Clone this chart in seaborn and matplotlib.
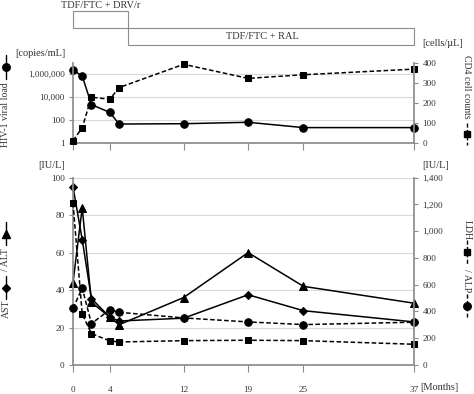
import matplotlib
matplotlib.use("Agg")
import matplotlib.pyplot as plt
from matplotlib.lines import Line2D
from matplotlib.ticker import NullLocator, FixedLocator
import seaborn as sns

sns.set_theme(style="ticks")
plt.rcParams['font.family'] = ['Liberation Serif', 'DejaVu Sans']

# data
months = [0, 1, 2, 4, 5, 12, 19, 25, 37]
viral_load = [2.2e6, 7.0e5, 2240, 460, 45, 48, 64, 22, 22]
cd4 = [12, 76, 228, 218, 276, 392, 322, 340, 368]
ast = [95, 67, 35.5, 25.5, 23.5, 25, 37.5, 29, 23]
alt = [44, 84, 33.5, 25.5, 21.5, 36, 60, 42, 33]
ldh = [1210, 380, 235, 180, 172, 182, 185, 182, 155]
alp = [424, 575, 310, 413, 394, 352, 322, 302, 320]

month_ticks = [0, 4, 12, 19, 25, 37]
vl_ticks = [1, 100, 10000, 1000000]
vl_labels = ["1", "100", "10,000", "1,000,000"]

regimens = ["TDF/FTC + DRV/r", "TDF/FTC + RAL"]
reg_start = [0, 6]
reg_end = [6, 37]

W, H = 474, 394
fig = plt.figure(figsize=(W / 100, H / 100), dpi=100)
grey = "#8c8c8c"
txt = "#333333"
fs = 7.5
tfs = 6.6
rfs = 7
left, width = 73 / W, 341 / W

def style_axes(ax, right=False):
    for s in ax.spines.values():
        s.set_visible(False)
    ax.spines['right' if right else 'left'].set_visible(True)
    ax.spines['right' if right else 'left'].set_color(grey)
    if not right:
        ax.spines['bottom'].set_visible(True)
        ax.spines['bottom'].set_color(grey)
    ax.tick_params(axis='both', colors=grey, labelcolor=txt, labelsize=tfs,
                   length=3, width=0.8, pad=3)

# treatment bars
ax_t = fig.add_axes([left, 1 - 45 / H, width, 34 / H])
ax_t.set_xlim(0, 37)
ax_t.set_ylim(2, 0)
ax_t.axis('off')
rows = [i + 0.5 for i in range(len(regimens))]
widths = [e - s for s, e in zip(reg_start, reg_end)]
bars = ax_t.barh(rows, widths, left=reg_start, height=1, fill=False,
                 edgecolor=grey, linewidth=0.8)
for b in bars:
    b.set_clip_on(False)
for i, name in enumerate(regimens):
    cx = (reg_start[i] + reg_end[i]) / 2
    if i == 0:
        ax_t.text(cx, -0.08, name, ha='center', va='bottom', fontsize=fs, color=txt)
    else:
        ax_t.text(cx - 1, rows[i], name, ha='center', va='center', fontsize=fs, color=txt)

line_kw = dict(color='black', linewidth=1.1, markeredgecolor='black', clip_on=False)
dash = (0, (3, 1.6))
ms = {'o': 5.4, 's': 5.0, '^': 5.6, 'D': 4.2}

# top panel: viral load + CD4
ax1 = fig.add_axes([left, 1 - 143 / H, width, 80.3 / H])
ax1.set_yscale('log')
sns.lineplot(x=months, y=viral_load, ax=ax1, marker='o', markersize=ms['o'], **line_kw)
ax1.set_xlim(0, 37)
ax1.set_ylim(1, 1e7)
ax1.yaxis.set_major_locator(FixedLocator(vl_ticks))
ax1.yaxis.set_minor_locator(NullLocator())
ax1.set_yticklabels(vl_labels)
ax1.set_xticks(month_ticks)
ax1.grid(axis='y', color='#d9d9d9', linewidth=0.8)
style_axes(ax1)
ax1.tick_params(axis='x', length=5, labelbottom=False)
ax1.set_xlabel("")
ax1.set_ylabel("")

ax1r = ax1.twinx()
sns.lineplot(x=months, y=cd4, ax=ax1r, marker='s', markersize=ms['s'], linestyle=dash, **line_kw)
ax1r.set_ylim(0, 400)
ax1r.set_yticks([0, 100, 200, 300, 400])
style_axes(ax1r, right=True)
ax1r.set_ylabel("")

# bottom panel: liver enzymes
ax2 = fig.add_axes([left, 1 - 365 / H, width, 187.3 / H])
sns.lineplot(x=months, y=alt, ax=ax2, marker='^', markersize=ms['^'], **line_kw)
sns.lineplot(x=months, y=ast, ax=ax2, marker='D', markersize=ms['D'], **line_kw)
ax2.set_xlim(0, 37)
ax2.set_ylim(0, 100)
ax2.set_yticks([0, 20, 40, 60, 80, 100])
ax2.set_xticks(month_ticks)
ax2.grid(axis='y', color='#d9d9d9', linewidth=0.8)
style_axes(ax2)
ax2.tick_params(axis='x', length=5, pad=10)
ax2.set_xlabel("")
ax2.set_ylabel("")

ax2r = ax2.twinx()
sns.lineplot(x=months, y=ldh, ax=ax2r, marker='s', markersize=ms['s'], linestyle=dash, **line_kw)
sns.lineplot(x=months, y=alp, ax=ax2r, marker='o', markersize=ms['o'], linestyle=dash, **line_kw)
ax2r.set_ylim(0, 1400)
ax2r.set_yticks(range(0, 1401, 200))
ax2r.set_yticklabels([f"{v:,}" for v in range(0, 1401, 200)])
style_axes(ax2r, right=True)
ax2r.set_ylabel("")

# unit and axis labels
def ft(x, y, s, size=fs, **kw):
    fig.text(x / W, 1 - y / H, s, fontsize=size, color=txt, **kw)

def sym(x, y0, y1, marker, dashed):
    ym = (y0 + y1) / 2
    fig.add_artist(Line2D([x / W] * 3, [1 - y0 / H, 1 - ym / H, 1 - y1 / H],
                          transform=fig.transFigure, color='black', linewidth=1.0,
                          linestyle=dash if dashed else '-', marker=marker,
                          markevery=[1], markersize=ms[marker]))

ft(65, 53, "[copies/mL]", ha='right', va='center')
ft(422, 44, "[cells/µL]", ha='left', va='center')
ft(65, 165, "[IU/L]", ha='right', va='center')
ft(422, 165, "[IU/L]", ha='left', va='center')
ft(420, 387, "[Months]", ha='left', va='center')

ft(6, 115, "HIV-1 viral load", rfs, ha='center', va='center', rotation=90)
sym(6, 55, 79, 'o', False)
ft(467, 87, "CD4 cell counts", rfs, ha='center', va='center', rotation=-90)
sym(467, 123, 145, 's', True)

ft(6, 309, "AST", rfs, ha='center', va='center', rotation=90)
sym(6, 276, 299, 'D', False)
ft(6, 260, "/ ALT", rfs, ha='center', va='center', rotation=90)
sym(6, 222, 245, '^', False)

ft(467, 230, "LDH", rfs, ha='center', va='center', rotation=-90)
sym(467, 240, 264, 's', True)
ft(467, 281, "/ ALP", rfs, ha='center', va='center', rotation=-90)
sym(467, 294, 317, 'o', True)

fig.savefig("out.png", dpi=100)
